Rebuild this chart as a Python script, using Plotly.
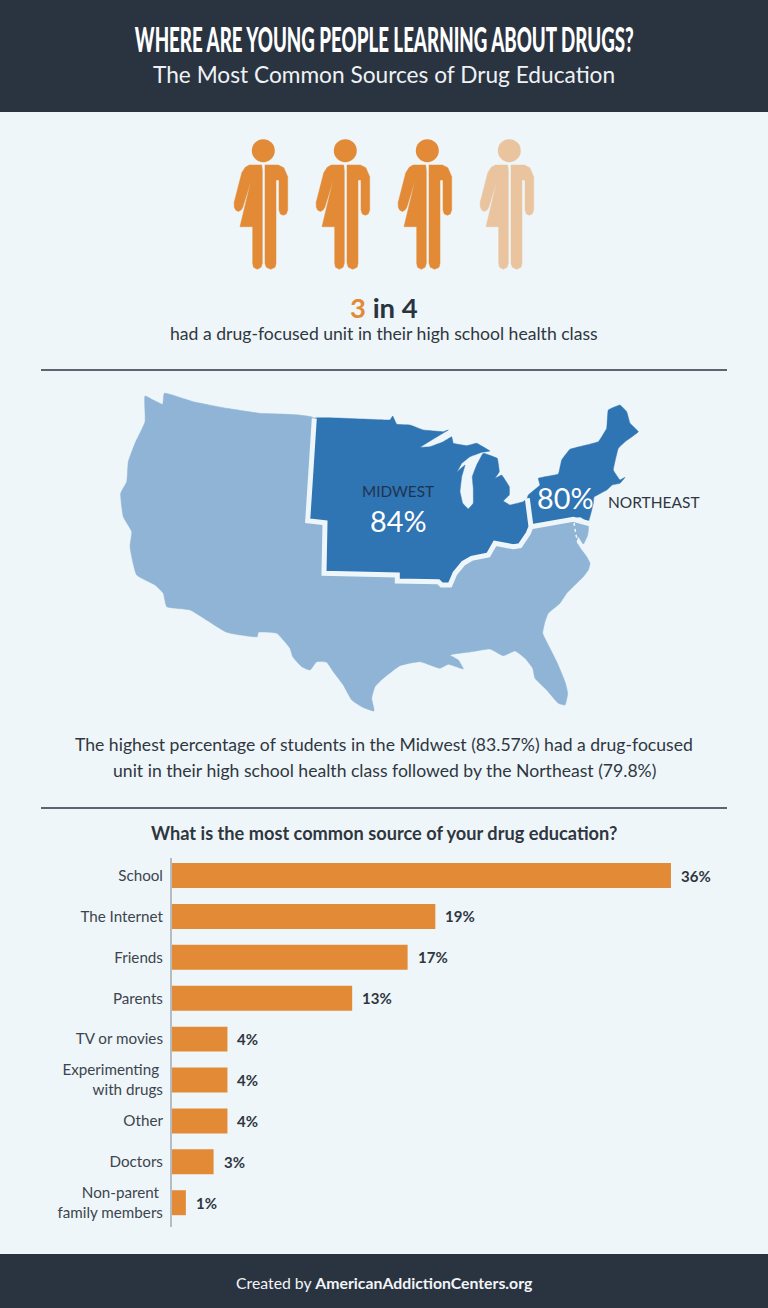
import plotly.graph_objects as go

# bar chart data
sources = ["School", "The Internet", "Friends", "Parents", "TV or movies",
           "Experimenting\u00a0<br>with drugs", "Other", "Doctors",
           "Non-parent\u00a0<br>family members"]
shares = [36, 19, 17, 13, 4, 4, 4, 3, 1]

people_total = 4
people_filled = 3

# person icon outline, offsets from the head centre
person_left_dx = [-1.6, -14, -18, -21.5, -29.2, -29, -27.5, -24.8, -22, -20.5, -12.3, -23.3, -10.6, -10.6, -9.8, -6, -2.2, -1, -1, -1.6]
person_left_dy = [14.3, 14.3, 16.5, 22, 52, 56.5, 59.5, 60.8, 59, 56.5, 30, 76, 76, 112.6, 116.5, 118.6, 116.5, 112.6, 20, 14.3]
person_right_dx = [1.7, 15, 20.5, 24.4, 24.4, 23, 20, 17, 15.7, 15.7, 12.7, 12.7, 11.8, 7.4, 3, 1.7, 1.7]
person_right_dy = [14.3, 14.3, 17, 26, 59.3, 63.2, 64.6, 63.2, 59.3, 29.3, 29.3, 112.6, 116.5, 118.6, 116.5, 112.6, 14.3]

# map outlines
west_south_x = [145, 153.3, 162.7, 164.3, 193.3, 226.7, 260, 314.3, 307.7, 325, 324, 397.3, 397.3, 438.3,
                441.7, 450, 455, 463.3, 471.7, 488.3, 495, 513.3, 520, 528.3, 531, 575, 588.3, 587.7,
                583.3, 578.3, 576.7, 581.7, 586.7, 590, 588.3, 583.3, 576.7, 566.7, 560, 548.3, 545, 542.7, 548.3,
                556.7, 565, 567.7, 565, 558.3, 546.7, 535, 532.7, 525, 515, 503.3, 490, 471.7, 450, 458.3,
                463.3, 448.3, 440, 420, 400, 383.3, 375, 371.7, 374, 361.7, 351.7, 343.3, 333.3, 326.7,
                316.7, 310, 301.7, 292.7, 290, 276.7, 258.3, 257.3, 226.7, 190, 166.7, 163.3, 155, 136.7,
                130, 131.7, 123.3, 120.7, 126.7, 128.3, 135, 145, 145]
west_south_y = [396, 400, 404.3, 393.3, 401.7, 408.3, 413.3, 418.3, 520.7, 522.7, 573.3, 575, 581, 581.7,
                585, 585, 573.3, 563.3, 558.3, 555, 543.3, 546.7, 545.7, 533.3, 526.7, 520, 526, 535,
                544, 536.7, 541.7, 550, 556.7, 563.3, 570, 576.7, 583.3, 593.3, 603.3, 613.3, 621.7, 633.3, 645,
                661.7, 681.7, 693.3, 705, 703.3, 690, 678.3, 668.3, 658.3, 651, 655.7, 649, 651.7, 655, 660,
                669, 664.3, 668.3, 661.7, 665.7, 678.3, 686.7, 698.3, 711, 706.7, 700, 685, 671.7, 662.3,
                661.7, 670, 666.7, 656.7, 648.3, 633.3, 632.3, 636.7, 632.3, 610, 606.7, 593.3, 585, 575,
                546.7, 531.7, 516.7, 493.3, 481.7, 461.7, 443.3, 421.7, 396]

midwest_x = [314.3, 307.7, 325, 324, 397.3, 397.3, 438.3, 441.7, 450, 455, 463.3, 471.7, 488.3, 495, 513.3,
             520, 528.3, 531, 527.3, 523.3, 510, 503.3, 509.3, 509.3, 501.7, 495, 499.3, 497.3, 484, 482.7,
             476.7, 472.3, 473.3, 473.3, 468.3, 462.7, 460, 461.7, 465, 457.3, 461.7, 470, 481.7, 490, 476.7,
             466.7, 453.3, 451.7, 443.3, 430, 420, 431.7, 448.3, 443.3, 423.3, 410, 396.7, 392.7, 390, 314.3]
midwest_y = [418.3, 520.7, 522.7, 573.3, 575, 581, 581.7, 585, 585, 573.3, 563.3, 558.3, 555, 543.3, 546.7,
             545.7, 533.3, 526.7, 498.3, 501.7, 505, 501, 495, 486.7, 475, 478.3, 471.7, 458.3, 453.3, 453.8,
             465, 476.7, 488.3, 503.3, 509, 503.3, 491.7, 476.7, 465, 471.7, 463.3, 456.7, 452.3, 451, 443.3,
             445.7, 443.3, 436.7, 441.7, 446.7, 447.3, 440, 430, 431.7, 430, 425, 424.3, 416, 420, 418.3]

northeast_x = [531, 527.3, 528.3, 540, 538.3, 558.3, 561.7, 570, 598.3, 606.7, 608.3, 620, 626.7, 630, 638.3,
               625, 618.3, 615.7, 613.3, 620, 625, 620, 612.3, 606.7, 594, 593.3, 591.7, 588.3, 580, 531]
northeast_y = [526.7, 498.3, 495, 485, 478.3, 474, 460, 449.3, 441.7, 428.3, 410, 405, 411.7, 423.3, 431.7,
               441.7, 448.3, 458.3, 470, 480, 477.3, 483.3, 485, 490, 497, 503.3, 510, 521.7, 517, 526.7]

border_x = [314.3, 307.7, 325, 324, 397.3, 397.3, 438.3, 441.7, 450, 455, 463.3, 471.7, 488.3, 495, 513.3,
            520, 528.3, 531, 527.3, None, 531, 573.3, 589]
border_y = [418.3, 520.7, 522.7, 573.3, 575, 581, 581.7, 585, 585, 573.3, 563.3, 558.3, 555, 543.3, 546.7,
            545.7, 533.3, 526.7, 498.3, None, 526.7, 519.3, 523.5]

bay_x = [574, 576, 579]
bay_y = [523, 535, 546]

BG = "#eef6fa"
DARK = "#2a3441"
ORANGE = "#e38a36"
ORANGE_FADED = "#eac49e"
LIGHT_BLUE = "#8fb4d6"
DARK_BLUE = "#2f74b3"
TEXT = "#30363f"
FONT = "Lato"

fig = go.Figure()

# bars
fig.add_trace(go.Bar(
    x=shares, y=sources, orientation="h", width=0.61,
    marker=dict(color=ORANGE, line_width=0),
    xaxis="x", yaxis="y", hoverinfo="skip",
))

# people row
for i in range(people_total):
    colour = ORANGE if i < people_filled else ORANGE_FADED
    cx = 263.3 + i * 82
    cy = 150.7
    for dx, dy in [(person_left_dx, person_left_dy), (person_right_dx, person_right_dy)]:
        fig.add_trace(go.Scatter(
            x=[cx + v for v in dx], y=[cy + v for v in dy],
            mode="lines", fill="toself", fillcolor=colour,
            line=dict(color=colour, width=0.5),
            xaxis="x2", yaxis="y2", hoverinfo="skip",
        ))
    fig.add_trace(go.Scatter(
        x=[cx], y=[cy], mode="markers",
        marker=dict(color=colour, size=23, line_width=0),
        xaxis="x2", yaxis="y2", hoverinfo="skip",
    ))

# map
for xs, ys, colour, smooth in [(west_south_x, west_south_y, LIGHT_BLUE, 0.4),
                               (midwest_x, midwest_y, DARK_BLUE, 0.15),
                               (northeast_x, northeast_y, DARK_BLUE, 0.25)]:
    fig.add_trace(go.Scatter(
        x=xs, y=ys, mode="lines", fill="toself", fillcolor=colour,
        line=dict(color=colour, width=0.5, shape="spline", smoothing=smooth),
        xaxis="x2", yaxis="y2", hoverinfo="skip",
    ))
fig.add_trace(go.Scatter(
    x=border_x, y=border_y, mode="lines",
    line=dict(color=BG, width=5),
    xaxis="x2", yaxis="y2", hoverinfo="skip",
))
fig.add_trace(go.Scatter(
    x=bay_x, y=bay_y, mode="lines",
    line=dict(color=BG, width=1.5, dash="dot"),
    xaxis="x2", yaxis="y2", hoverinfo="skip",
))


def label(x, y, text, size, color=TEXT, anchor="center", weight=None):
    return dict(x=x, y=y, xref="x2", yref="y2", text=text, showarrow=False,
                xanchor=anchor, yanchor="middle",
                font=dict(family=FONT, size=size, color=color, weight=weight))


annotations = [
    label(384, 38, "WHERE ARE YOUNG PEOPLE LEARNING ABOUT DRUGS?", 34, "#ffffff", weight=900),
    label(384, 74, "The Most Common Sources of Drug Education", 22.7, "#eef2f5"),
    label(384, 307, f"<b><span style='color:{ORANGE}'>3</span> in 4</b>", 27.5, DARK),
    label(384, 333, "had a drug-focused unit in their high school health class", 17.6),
    label(398, 491, "MIDWEST", 15.3, "#1f3350"),
    label(398, 521, "84%", 28.8, "#ffffff"),
    label(565.5, 498, "80%", 28.8, "#ffffff"),
    label(654, 502, "NORTHEAST", 15.5, TEXT),
    label(384, 744, "The highest percentage of students in the Midwest (83.57%) had a drug-focused", 17.6),
    label(384, 770, "unit in their high school health class followed by the Northeast (79.8%)", 17.6),
    label(384, 833, "<b>What is the most common source of your drug education?</b>", 18.2),
    label(384.5, 1282, "Created by <b>AmericanAddictionCenters.org</b>", 15.8, "#f2f5f7"),
]
for source, share in zip(sources, shares):
    annotations.append(dict(
        x=share, y=source, xref="x", yref="y", text=f"<b>{share}%</b>", showarrow=False,
        xanchor="left", yanchor="middle", xshift=8,
        font=dict(family=FONT, size=15, color=TEXT),
    ))


def band(y0, y1):
    return dict(type="rect", xref="x2", yref="y2", x0=0, x1=768, y0=y0, y1=y1,
                fillcolor=DARK, line_width=0, layer="below")


def rule(y):
    return dict(type="line", xref="x2", yref="y2", x0=41, x1=727, y0=y, y1=y,
                line=dict(color=DARK, width=1.5), layer="below")


fig.update_layout(
    width=768, height=1308,
    margin=dict(l=0, r=0, t=0, b=0),
    paper_bgcolor=BG, plot_bgcolor="rgba(0,0,0,0)",
    showlegend=False,
    shapes=[band(0, 112), band(1254, 1308), rule(370), rule(808)],
    annotations=annotations,
    xaxis=dict(domain=[172 / 768, 1], range=[0, 596 / 13.86], visible=False, anchor="y"),
    yaxis=dict(
        domain=[1 - 1227 / 1308, 1 - 858 / 1308],
        type="category", categoryorder="array", categoryarray=sources,
        range=[8.594, -0.428], anchor="x",
        showline=True, linecolor="#b4bcc4", linewidth=2, showgrid=False, zeroline=False,
        ticks="", ticklabelstandoff=4,
        tickfont=dict(family=FONT, size=15.2, color="#3d444d"),
    ),
    xaxis2=dict(domain=[0, 1], range=[0, 768], visible=False, anchor="y2"),
    yaxis2=dict(domain=[0, 1], range=[1308, 0], visible=False, anchor="x2"),
)

# no condensed face installed, so squeeze the headline to the reference width
squeeze_title = """
document.body.style.margin = '0';
var t = Array.from(document.querySelectorAll('.annotation-text'))
    .find(function (e) { return e.textContent.indexOf('WHERE') === 0; });
var b = t.getBBox();
var cx = b.x + b.width / 2;
t.setAttribute('transform', 'translate(' + cx + ',0) scale(' + (499 / b.width) + ',1) translate(' + (-cx) + ',0)');
"""
fig.write_html("out.html", config={"displayModeBar": False}, post_script=squeeze_title)
